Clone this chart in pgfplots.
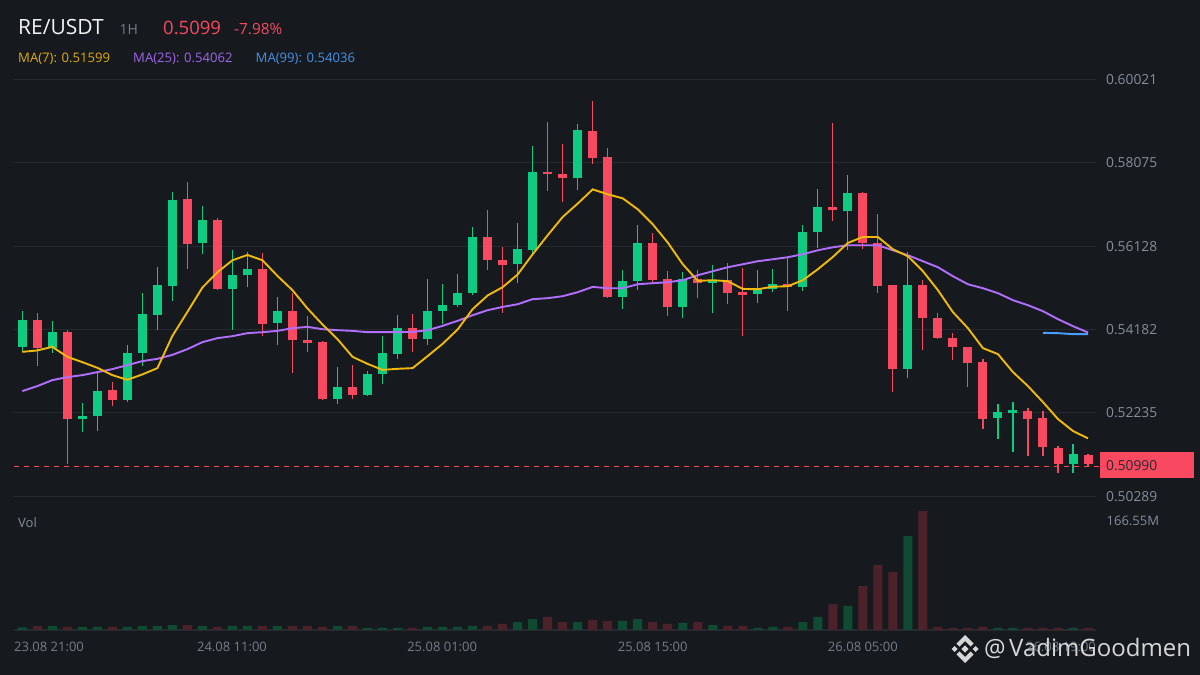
\documentclass[border=0pt]{standalone}
\usepackage{pgfplots}
\usepackage{pgfplotstable}
\usepackage{fontspec}
\pgfplotsset{compat=1.18}
\setmainfont{Open Sans}
\definecolor{bg}{HTML}{161A1E}
\definecolor{gridc}{HTML}{262A2E}
\definecolor{up}{HTML}{0ECB81}
\definecolor{down}{HTML}{F84960}
\definecolor{upv}{HTML}{0F4A33}
\definecolor{downv}{HTML}{4D2129}
\definecolor{ma7}{HTML}{F0B90B}
\definecolor{ma25}{HTML}{B16EFF}
\definecolor{ma99}{HTML}{4A9EFF}
\definecolor{lab}{HTML}{848E9C}
\newcommand\fs[1]{\fontsize{#1}{#1}\selectfont}
% i open close high low
\pgfplotstableread{
i open close high low
0 .53770 .54399 .54609 .53653
2 .53746 .54119 .54376 .53630
4 .52091 .52161 .52464 .51788
5 .52161 .52744 .53187 .51812
7 .52534 .53630 .53816 .52487
8 .53630 .54539 .55029 .53327
9 .54515 .55215 .55635 .54166
10 .55192 .57197 .57383 .54843
12 .56194 .56731 .57057 .55938
14 .55122 .55448 .56031 .54166
15 .55448 .55588 .55984 .55169
17 .54329 .54609 .54936 .53816
21 .52557 .52837 .53304 .52441
23 .52650 .53141 .53211 .52627
24 .53141 .53630 .54026 .52907
25 .53607 .54212 .54515 .53490
27 .53956 .54609 .55355 .53816
28 .54609 .54749 .55238 .54306
29 .54749 .55029 .55472 .54703
30 .55029 .56335 .56568 .54983
33 .55705 .56054 .56661 .55262
34 .56031 .57850 .58456 .55938
37 .57710 .58829 .58969 .57430
40 .54936 .55309 .55565 .54656
41 .55309 .56194 .56614 .55099
44 .54703 .55355 .55518 .54446
46 .55262 .55332 .55681 .54562
49 .55006 .55122 .55565 .54796
50 .55122 .55238 .55588 .55052
52 .55169 .56451 .56614 .55076
53 .56451 .57034 .57453 .56078
55 .56941 .57360 .57780 .56031
59 .53257 .55215 .55984 .53047
65 .52114 .52254 .52441 .51624
66 .52231 .52301 .52487 .51321
70 .51042 .51275 .51508 .50832
}\greentab
\pgfplotstableread{
i open close high low
1 .54399 .53746 .54562 .53327
3 .54119 .52091 .54166 .51042
6 .52767 .52534 .52953 .52394
11 .57220 .56171 .57616 .55588
13 .56731 .55122 .56777 .55099
16 .55588 .54306 .55961 .54026
18 .54609 .53933 .55029 .53164
19 .53933 .53863 .54492 .53653
20 .53886 .52557 .53910 .52534
22 .52837 .52650 .53351 .52557
26 .54212 .53956 .54539 .53653
31 .56335 .55798 .56964 .55565
32 .55798 .55681 .56101 .54562
35 .57850 .57803 .59015 .57407
36 .57803 .57710 .58503 .57150
38 .58806 .58176 .59505 .58037
39 .58200 .54936 .58410 .54913
42 .56194 .55332 .56428 .55239
43 .55355 .54703 .55542 .54492
45 .55355 .55262 .55565 .54913
47 .55332 .55029 .55728 .54773
48 .55052 .54983 .55612 .54026
51 .55238 .55169 .55845 .54609
54 .57034 .56964 .58992 .56708
56 .57360 .56194 .57383 .56054
57 .56194 .55192 .56871 .55029
58 .55215 .53257 .55215 .52720
60 .55215 .54446 .55332 .53700
61 .54446 .53980 .54562 .53956
62 .53980 .53770 .54096 .53467
63 .53770 .53397 .53770 .52837
64 .53420 .52091 .53490 .51858
67 .52278 .52091 .52347 .51228
68 .52114 .51438 .52278 .51228
69 .51415 .51042 .51461 .50832
71 .51252 .51042 .51275 .50972
}\redtab
\pgfplotstableread{
i ma7 ma25
0 .53660 .52744
1 .53693 .52860
2 .53777 .53000
3 .53544 .53070
4 .53420 .53117
5 .53288 .53187
6 .53117 .53257
7 .53007 .53351
8 .53134 .53444
9 .53280 .53497
10 .54033 .53590
11 .54593 .53723
12 .55162 .53886
13 .55518 .53980
14 .55798 .54026
15 .55921 .54096
16 .55798 .54119
17 .55432 .54150
18 .55099 .54212
19 .54672 .54243
20 .54299 .54189
21 .53956 .54166
22 .53544 .54150
23 .53380 .54119
24 .53240 .54119
25 .53264 .54119
26 .53280 .54126
27 .53560 .54166
28 .53847 .54266
29 .54182 .54383
30 .54656 .54515
31 .54976 .54632
32 .55169 .54709
33 .55465 .54772
34 .55938 .54889
35 .56381 .54913
36 .56808 .54959
37 .57120 .55052
38 .57453 .55176
39 .57337 .55145
40 .57243 .55145
41 .56987 .55238
42 .56638 .55262
43 .56211 .55285
44 .55705 .55332
45 .55316 .55448
46 .55332 .55542
47 .55309 .55635
48 .55129 .55705
49 .55122 .55775
50 .55180 .55821
51 .55192 .55868
52 .55332 .55938
53 .55588 .56031
54 .55875 .56101
55 .56202 .56147
56 .56341 .56147
57 .56341 .56147
58 .56054 .56031
59 .55891 .55915
60 .55542 .55775
61 .55099 .55635
62 .54586 .55425
63 .54212 .55238
64 .53747 .55145
65 .53607 .55029
66 .53187 .54866
67 .52860 .54749
68 .52487 .54609
69 .52091 .54423
70 .51812 .54259
71 .51641 .54112
}\matab
\pgfplotstableread{
i vol
0 4.1
2 6.1
4 4.6
5 4.6
7 4.6
8 6.1
9 6.1
10 7.6
12 6.1
14 6.1
15 6.1
17 6.1
21 6.1
23 3.1
24 3.1
25 3.1
27 4.6
28 4.6
29 4.6
30 6.1
33 12.2
34 16.8
37 12.2
40 13.8
41 16.8
44 10.7
46 7.6
49 3.1
50 4.6
52 12.2
53 19.9
55 36.7
59 143.6
65 3.1
66 3.1
70 3.1
}\volgreen
\pgfplotstableread{
i vol
1 6.1
3 4.6
6 4.6
11 7.6
13 4.6
16 6.1
18 6.1
19 6.1
20 4.6
22 6.1
26 3.1
31 6.1
32 9.2
35 19.9
36 12.2
38 15.3
39 13.8
42 12.2
43 9.2
45 12.2
47 6.1
48 6.1
51 4.6
54 39.7
56 67.2
57 99.3
58 88.6
60 181.8
61 4.6
62 3.1
63 3.1
64 4.6
67 3.1
68 3.1
69 3.1
71 3.1
}\volred
\begin{document}
\begin{tikzpicture}
\path[use as bounding box] (0,0) rectangle (1200pt,675pt);
\fill[bg] (0,0) rectangle (1200pt,675pt);
\begin{axis}[
  at={(14pt,178.7pt)}, anchor=south west,
  scale only axis, width=1082pt, height=417pt,
  xmin=-0.553, xmax=71.53, ymin=0.50289, ymax=0.60021,
  axis line style={draw=none},
  tick style={draw=none},
  major tick length=0pt,
  xtick=\empty,
  ytick={0.50289,0.52235,0.54182,0.56128,0.58075,0.60021},
  yticklabels={0.50289,0.52235,0.54182,0.56128,0.58075,0.60021},
  yticklabel pos=right,
  yticklabel style={anchor=west, inner sep=0pt, xshift=10pt, font=\fs{13.8}, text=lab},
  ymajorgrids,
  grid style={gridc, line width=1pt},
  clip=false,
]
\addplot[draw=none, no marks, error bars/.cd, y dir=plus, y explicit, error mark=none,
  error bar style={up, line width=1.1pt, line cap=butt}]
  table[x=i, y=low, y error plus expr=\thisrow{high}-\thisrow{low}] {\greentab};
\addplot[draw=none, no marks, error bars/.cd, y dir=plus, y explicit, error mark=none,
  error bar style={down, line width=1.1pt, line cap=butt}]
  table[x=i, y=low, y error plus expr=\thisrow{high}-\thisrow{low}] {\redtab};
\addplot[draw=none, no marks, error bars/.cd, y dir=plus, y explicit, error mark=none,
  error bar style={up, line width=9pt, line cap=butt}]
  table[x=i, y=open, y error plus expr=\thisrow{close}-\thisrow{open}] {\greentab};
\addplot[draw=none, no marks, error bars/.cd, y dir=plus, y explicit, error mark=none,
  error bar style={down, line width=9pt, line cap=butt}]
  table[x=i, y=close, y error plus expr=\thisrow{open}-\thisrow{close}] {\redtab};
\addplot[down, line width=1pt, dash pattern=on 5pt off 5pt] coordinates {(-0.553,0.5099)(71.8,0.5099)};
\addplot[ma25, line width=1.9pt, mark=none] table[x=i, y=ma25] {\matab};
\addplot[ma99, line width=1.9pt, mark=none] coordinates {(68,0.54103)(69,0.54096)(70,0.54073)(71,0.54073)};
\addplot[ma7, line width=1.9pt, mark=none] table[x=i, y=ma7] {\matab};
\end{axis}
\begin{axis}[
  at={(14pt,45pt)}, anchor=south west,
  scale only axis, width=1082pt, height=130pt,
  xmin=-0.553, xmax=71.53, ymin=0, ymax=198.64,
  axis x line=bottom, axis y line=right,
  x axis line style={draw=gridc, line width=1pt, -},
  y axis line style={draw=none},
  tick style={draw=none},
  major tick length=0pt,
  ytick={166.55}, yticklabels={166.55M},
  yticklabel style={anchor=west, inner sep=0pt, xshift=10.5pt, font=\fs{13}, text=lab},
  xtick={1.78,13.97,27.97,42.0,56.0,69.2},
  xticklabels={23.08 21:00,24.08 11:00,25.08 01:00,25.08 15:00,26.08 05:00,26.08 19:00},
  xticklabel style={anchor=base, inner sep=0pt, yshift=-21.5pt, font=\fs{13}, text=lab!85!bg},
  ybar, bar width=9pt, bar shift=0pt,
  clip=false,
]
\addplot[fill=upv, draw=none] table[x=i, y=vol] {\volgreen};
\addplot[fill=downv, draw=none] table[x=i, y=vol] {\volred};
\end{axis}
\fill[down] (1100pt,197pt) rectangle (1194pt,223pt);
\node[anchor=west, inner sep=0pt, text=bg!85!lab, font=\fs{13.8}] at (1106pt,209pt) {0.50990};
\node[anchor=base west, inner sep=0pt, text=white!90!lab, font=\fs{21}] at (18pt,640pt) {RE/USDT};
\node[anchor=base west, inner sep=0pt, text=lab!85!bg, font=\fs{14}] at (119.5pt,640pt) {1H};
\node[anchor=base west, inner sep=0pt, text=down, font=\fs{18.5}] at (163pt,640pt) {0.5099};
\node[anchor=base west, inner sep=0pt, text=down, font=\fs{15.4}] at (234pt,640pt) {-7.98\%};
\node[anchor=base west, inner sep=0pt, text=ma7!92!bg, font=\fs{13.1}] at (18pt,612.5pt) {MA(7): 0.51599};
\node[anchor=base west, inner sep=0pt, text=ma25!90!bg, font=\fs{13.1}] at (133pt,612.5pt) {MA(25): 0.54062};
\node[anchor=base west, inner sep=0pt, text=ma99!90!bg, font=\fs{13.1}] at (255.5pt,612.5pt) {MA(99): 0.54036};
\node[anchor=base west, inner sep=0pt, text=lab, font=\fs{13}] at (18pt,147.5pt) {Vol};
% watermark
\begin{scope}[shift={(965pt,26pt)}, x=1pt, y=1pt]
\fill[white!82!bg] (0,3.6) -- (3.6,0) -- (0,-3.6) -- (-3.6,0) -- cycle;
\fill[white!82!bg] (-10.5,3) -- (-7.5,0) -- (-10.5,-3) -- (-13.5,0) -- cycle;
\fill[white!82!bg] (10.5,3) -- (13.5,0) -- (10.5,-3) -- (7.5,0) -- cycle;
\fill[white!82!bg] (0,14) -- (8.6,5.4) -- (5.6,2.4) -- (0,8) -- (-5.6,2.4) -- (-8.6,5.4) -- cycle;
\fill[white!82!bg] (0,-14) -- (8.6,-5.4) -- (5.6,-2.4) -- (0,-8) -- (-5.6,-2.4) -- (-8.6,-5.4) -- cycle;
\end{scope}
\node[anchor=base west, inner sep=0pt, text=white!82!bg, font=\fs{24}] at (984pt,18pt) {@};
\node[anchor=base west, inner sep=0pt, text=white!82!bg, font=\fs{24}] at (1009pt,18pt) {VadimGoodmen};
\end{tikzpicture}
\end{document}
